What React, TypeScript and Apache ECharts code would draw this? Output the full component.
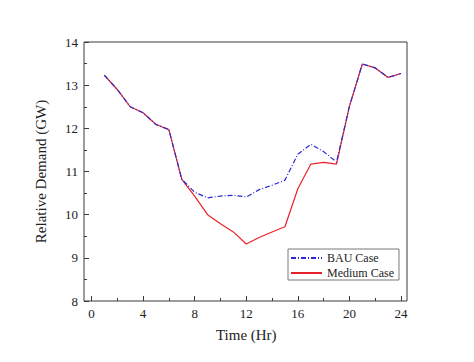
import React, { useEffect, useRef } from "react";
import * as echarts from "echarts";

const hours = [1, 2, 3, 4, 5, 6, 7, 8, 9, 10, 11, 12, 13, 14, 15, 16, 17, 18, 19, 20, 21, 22, 23, 24];
const bauCase = [13.23, 12.9, 12.5, 12.36, 12.09, 11.97, 10.82, 10.52, 10.39, 10.43, 10.45, 10.41, 10.58, 10.68, 10.8, 11.4, 11.63, 11.46, 11.22, 12.51, 13.49, 13.4, 13.18, 13.27];
const mediumCase = [13.23, 12.9, 12.5, 12.36, 12.09, 11.97, 10.82, 10.43, 10.0, 9.79, 9.6, 9.32, 9.47, 9.6, 9.72, 10.6, 11.17, 11.21, 11.17, 12.51, 13.49, 13.4, 13.18, 13.27];
const seriesNames = ["BAU Case", "Medium Case"];
const xTitle = "Time (Hr)";
const yTitle = "Relative Demand (GW)";

const FONT = "Liberation Serif";

export default function App() {
  const ref = useRef<HTMLDivElement>(null);
  useEffect(() => {
    if (!ref.current) return;
    const chart = echarts.init(ref.current, null, { renderer: "svg" });
    const frameColor = "#3a3a3a";
    const legendText = { fontFamily: FONT, fontSize: 12, color: "#222" };
    chart.setOption({
      animation: false,
      backgroundColor: "#ffffff",
      textStyle: { fontFamily: FONT },
      grid: [
        { left: 84, top: 42, width: 323, height: 259, show: true, borderColor: frameColor, borderWidth: 1, backgroundColor: "transparent" },
        { left: 91.5, top: 42, width: 309.5, height: 259 },
      ],
      xAxis: [
        { gridIndex: 0, type: "value", min: 0, max: 1, show: false },
        {
          gridIndex: 1,
          type: "value",
          min: 0,
          max: 24,
          interval: 4,
          name: xTitle,
          nameLocation: "middle",
          nameGap: 26,
          nameTextStyle: { fontFamily: FONT, fontSize: 15, color: "#222" },
          axisLine: { show: false },
          axisTick: { show: true, inside: true, length: 5, lineStyle: { color: frameColor } },
          minorTick: { show: true, splitNumber: 2, length: 3, lineStyle: { color: frameColor } },
          splitLine: { show: false },
          axisLabel: { fontFamily: FONT, fontSize: 13, color: "#222", margin: 6 },
        },
      ],
      yAxis: [
        {
          gridIndex: 0,
          type: "value",
          min: 8,
          max: 14,
          interval: 1,
          name: yTitle,
          nameLocation: "middle",
          nameGap: 36,
          nameTextStyle: { fontFamily: FONT, fontSize: 15, color: "#222" },
          axisLine: { show: false },
          axisTick: { show: true, inside: true, length: 5, lineStyle: { color: frameColor } },
          minorTick: { show: true, splitNumber: 2, length: 3, lineStyle: { color: frameColor } },
          splitLine: { show: false },
          axisLabel: { fontFamily: FONT, fontSize: 13, color: "#222", margin: 6 },
        },
        { gridIndex: 1, type: "value", min: 8, max: 14, show: false },
      ],
      legend: {
        orient: "vertical",
        left: 288,
        top: 249,
        borderColor: "#7a7a7a",
        borderWidth: 1,
        padding: [3, 5, 1, 2],
        itemWidth: 31,
        itemHeight: 12,
        itemGap: 3,
        itemStyle: { opacity: 0 },
        textStyle: legendText,
        data: seriesNames.map((n) => ({ name: n, textStyle: legendText })),
      },
      series: [
        {
          name: seriesNames[0],
          type: "line",
          xAxisIndex: 1,
          yAxisIndex: 1,
          symbol: "none",
          z: 3,
          lineStyle: { color: "#2a2ad0", width: 1.2, type: [5, 2, 1, 2] },
          itemStyle: { color: "#2a2ad0" },
          data: hours.map((h, i) => [h, bauCase[i]]),
        },
        {
          name: seriesNames[1],
          type: "line",
          xAxisIndex: 1,
          yAxisIndex: 1,
          symbol: "none",
          z: 2,
          lineStyle: { color: "#e8222a", width: 1.2 },
          itemStyle: { color: "#e8222a" },
          data: hours.map((h, i) => [h, mediumCase[i]]),
        },
      ],
    });
    return () => chart.dispose();
  }, []);
  return <div ref={ref} style={{ position: "fixed", left: 0, top: 0, width: 474, height: 362 }} />;
}
